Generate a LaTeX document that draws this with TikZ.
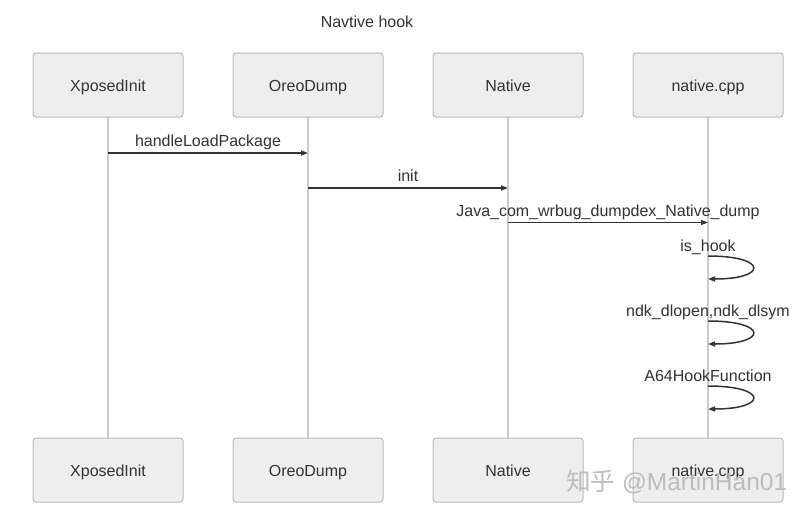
\documentclass[tikz,border=0pt]{standalone}
\usepackage{fontspec}
\setmainfont{Liberation Sans}
\newfontfamily\cjkfont{Noto Sans CJK SC}
\usetikzlibrary{arrows.meta}

\definecolor{boxfill}{HTML}{EEEEEE}
\definecolor{boxline}{HTML}{BBBBBB}
\definecolor{lifecol}{HTML}{CCCCCC}
\definecolor{msgcol}{HTML}{333333}
\definecolor{markcol}{HTML}{BDBDBD}

\begin{document}
\begin{tikzpicture}[x=1pt,y=-1pt,
    actor/.style={draw=boxline, fill=boxfill, line width=1pt, rounded corners=3pt,
        minimum width=150pt, minimum height=64pt, text height=13pt, text depth=0pt,
        inner sep=0pt, font=\fontsize{16}{19}\selectfont, text=msgcol},
    lifeline/.style={draw=lifecol, line width=1.5pt},
    msg/.style={draw=msgcol, line width=1.5pt, -{Triangle[length=7pt,width=5pt]}},
    msglabel/.style={anchor=base, inner sep=0pt, font=\fontsize{16}{19}\selectfont, text=msgcol}]
    \useasboundingbox[fill=white] (0,0) rectangle (808,515);

    \node[msglabel] (title) at (367,27.5) {Navtive hook};

    % lifelines first, boxes on top
    \foreach \name/\txt/\x in {xposed/XposedInit/108, oreo/OreoDump/308, native/Native/508, cpp/native.cpp/708}
    {
        \draw[lifeline] (\x,100) -- (\x,450);
        \node[actor] (\name T) at (\x,85) {\txt};
        \node[actor] (\name B) at (\x,470) {\txt};
    }

    % messages
    \draw[msg] (xposedT |- 0,153) -- node[msglabel, midway, yshift=6.5pt] (hlp) {handleLoadPackage} (oreoT |- 0,153);
    \draw[msg] (oreoT |- 0,188) -- node[msglabel, midway, yshift=6.5pt] (init) {init} (nativeT |- 0,188);
    \draw[msg] (nativeT |- 0,222.5) -- node[msglabel, midway, yshift=6.5pt] (jdump) {Java\_com\_wrbug\_dumpdex\_Native\_dump} (cppT |- 0,222.5);

    % self calls
    \foreach \y/\txt in {256/is\_hook, 321/{ndk\_dlopen,ndk\_dlsym}, 386/A64HookFunction}
    {
        \node[msglabel] at ([yshift=-\y+5]cppT |- 0,0) {\txt};
        \draw[msg] (cppT |- 0,\y) .. controls +(60,0) and +(60,0) .. (cppT |- 0,\y+23);
    }

    \node[anchor=base west, inner sep=0pt, text=markcol, font=\fontsize{24.5}{28}\selectfont] (mark) at (566,490) {{\cjkfont 知乎} @MartinHan01};
\end{tikzpicture}
\end{document}
